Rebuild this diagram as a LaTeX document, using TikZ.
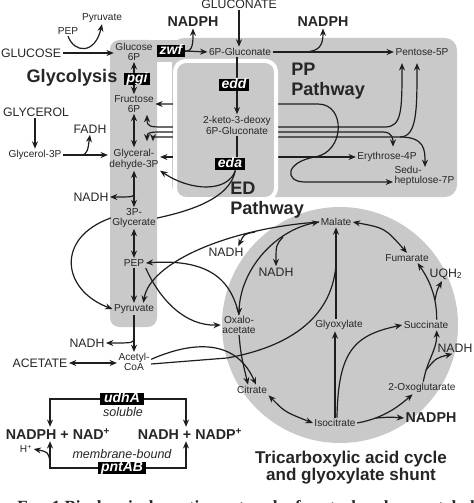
\documentclass[tikz,border=0pt]{standalone}
\usepackage{fontspec}
\setmainfont{Liberation Sans}
\newfontfamily\capserif{Liberation Serif}
\usetikzlibrary{arrows.meta,calc}
\definecolor{rg}{RGB}{201,201,201}
\definecolor{txt}{RGB}{38,38,38}
\definecolor{lc}{RGB}{30,30,30}
\pgfdeclarelayer{bg}
\pgfdeclarelayer{pp}
\pgfdeclarelayer{ed}
\pgfdeclarelayer{edges}
\pgfsetlayers{bg,pp,ed,edges,main}
\tikzset{
 lab/.style={font=\fontsize{9.2}{10}\selectfont, text=txt, inner sep=1pt},
 sm/.style={font=\fontsize{7.6}{7}\selectfont, text=txt, inner sep=1pt, align=center},
 bnad/.style={font=\bfseries\fontsize{10.7}{12}\selectfont, text=txt, inner sep=1pt},
 ttl/.style={font=\bfseries\fontsize{13.6}{14.5}\selectfont, text=txt, inner sep=0pt, align=left},
 enz/.style={fill=black, text=white, font=\bfseries\itshape\fontsize{10.5}{11}\selectfont, inner xsep=2pt, inner ysep=0.4pt, text height=6.9pt, text depth=1.7pt},
 ital/.style={font=\itshape\fontsize{9.4}{10}\selectfont, text=txt, inner sep=1pt},
 conn/.style={line width=0.9pt, draw=lc},
 arr/.style={conn, -{Stealth[length=5.5pt,width=4.5pt]}},
 darr/.style={conn, {Stealth[length=5.5pt,width=4.5pt]}-{Stealth[length=5.5pt,width=4.5pt]}},
}
\begin{document}
\begin{tikzpicture}[x=0.75pt,y=-0.75pt]
\useasboundingbox (0,0) rectangle (474,503);
% ---------- regions ----------
\begin{pgfonlayer}{bg}
\fill[white] (0,0) rectangle (474,503);
\fill[rg, rounded corners=7pt] (110,40) rectangle (157,327);
\fill[rg] (150,40) rectangle (185,62);
\fill[rg, rounded corners=9pt] (172,38) rectangle (457,197);
\fill[rg] (340,325) circle[radius=88.5pt];
\end{pgfonlayer}
\begin{pgfonlayer}{ed}
\draw[fill=rg, draw=white, line width=3pt, rounded corners=8pt] (175,61) rectangle (276,199);
\end{pgfonlayer}
% ---------- nodes ----------
\node[lab] (gluconate) at (239,4) {GLUCONATE};
\node[bnad] (nadphA) at (193,22) {NADPH};
\node[bnad] (nadphB) at (323,22) {NADPH};
\node[sm] (pepA) at (68,31) {PEP};
\node[sm] (pyrA) at (102,18) {Pyruvate};
\node[lab] (glucose) at (31,53) {GLUCOSE};
\node[sm] (g6p) at (134,52) {Glucose\\6P};
\node[enz] (zwf) at (171,51) {zwf};
\node[sm] (gnt) at (240,52) {6P-Gluconate};
\node[sm] (p5p) at (422,52) {Pentose-5P};
\node[ttl] (glyco) at (72,78) {Glycolysis};
\node[enz] (pgi) at (137,79) {pgi};
\node[sm] (f6p) at (134,104) {Fructose\\6P};
\node[lab] (glycerol) at (36,112) {GLYCEROL};
\node[lab] (fadh) at (90,129) {FADH};
\node[sm] (gol3p) at (35,155) {Glycerol-3P};
\node[sm] (g3p) at (134,159) {Glyceral-\\dehyde-3P};
\node[enz] (edd) at (234,85) {edd};
\node[sm] (kdpg) at (237,125) {2-keto-3-deoxy\\6P-Gluconate};
\node[enz] (eda) at (230,164) {eda};
\node[ttl, anchor=north west] (pptitle) at (291,63) {PP\\Pathway};
\node[sm] (e4p) at (387,157) {Erythrose-4P};
\node[sm, align=left, anchor=west] (s7p) at (393,176) {Sedu-\\heptulose-7P};
\node[ttl, anchor=north west] (edtitle) at (230,182) {ED\\Pathway};
\node[lab] (nadhA) at (91,197) {NADH};
\node[sm, fill=rg] (g3pg) at (134,218) {3P-\\Glycerate};
\node[sm] (pep) at (134,263) {PEP};
\node[sm] (pyr) at (134,309) {Pyruvate};
\node[lab] (nadhB) at (226,252) {NADH};
\node[lab] (nadhC) at (276,272) {NADH};
\node[sm] (mal) at (336,222) {Malate};
\node[sm] (fum) at (407,258) {Fumarate};
\node[lab] (uqh) at (446,274) {UQH\textsubscript{2}};
\node[sm] (glx) at (339,325) {Glyoxylate};
\node[sm] (suc) at (426,325) {Succinate};
\node[sm] (oaa) at (239,325) {Oxalo-\\acetate};
\node[sm] (accoa) at (134,362) {Acetyl-\\CoA};
\node[lab] (nadhD) at (87,343) {NADH};
\node[lab] (acetate) at (40,363) {ACETATE};
\node[sm] (cit) at (252,390) {Citrate};
\node[lab] (nadhE) at (455,348) {NADH};
\node[sm] (akg) at (422,388) {2-Oxoglutarate};
\node[sm] (icit) at (335,423) {Isocitrate};
\node[bnad] (nadphC) at (431,418) {NADPH};
\node[font=\bfseries\fontsize{12.8}{12.8}\selectfont, align=center, text=txt, inner sep=0pt] (tca) at (351,468) {Tricarboxylic acid cycle\\and glyoxylate shunt};
\node[enz, minimum width=33pt] (udha) at (122,399) {udhA};
\node[ital] (sol) at (123,412) {soluble};
\node[bnad] (lhs) at (58,434) {NADPH + NAD\textsuperscript{+}};
\node[bnad] (rhs) at (190,434) {NADH + NADP\textsuperscript{+}};
\node[sm] (hp) at (26,449) {H\textsuperscript{+}};
\node[ital] (mb) at (122,454) {membrane-bound};
\node[enz, minimum width=33pt] (pnt) at (122,468) {pntAB};
\coordinate (lx) at (50,0);
\coordinate (rx) at (186,0);
\begin{scope}
\clip (0,0) rectangle (474,503);
\node[anchor=base west, inner sep=0pt, font=\capserif\bfseries\fontsize{12.8}{14}\selectfont, text=black!85] (cap) at (17,512) {F{\fontsize{10}{12}\selectfont IG}. 1 Biochemical reaction network of central carbon metabolism};
\end{scope}
% ---------- PP pathway lines (behind ED region) ----------
\begin{pgfonlayer}{pp}
\draw[darr] (f6p.east) -- (318,104) .. controls (346,104) and (345,152) .. (315,157) .. controls (285,162) and (284,182) .. (305,182) -- ([yshift=-4.5pt]s7p.west);
\draw[darr] (e4p.west -| g3p.east) -- (e4p.west);
\draw[darr] ($(f6p.south)+(13,1)$) .. controls (147,127) and (150,127) .. (165,127) -- (385,127) .. controls (402,127) and (402,110) .. ($(p5p.south)+(-20,6)$);
\draw[darr] ($(g3p.north)+(13,-6)$) .. controls (147,132) and (150,132) .. (165,132) -- (383,132) .. controls (393,132) and (393,140) .. ($(e4p.north)+(6,-4)$);
\coordinate (bS) at (400,137);
\draw[darr] ($(g3p.north)+(19,-6)$) .. controls (153,137) and (156,137) .. (168,137) -- (bS) .. controls (417,137) and (417,110) .. ($(p5p.south)+(-5,6)$);
\draw[arr] (bS) .. controls (425,137) and (425,150) .. ($(s7p.north west)+(32,2)$);
\end{pgfonlayer}
% ---------- other connectors ----------
\begin{pgfonlayer}{edges}
\draw[arr] (glucose.east) -- (glucose.east -| g6p.west);
\draw[arr] (pepA.south) .. controls (74,53) and (95,55) .. (pyrA.south);
\draw[arr] (zwf.east) -- (gnt.west);
\draw[arr] (zwf.east) .. controls (193,52) and (193,42) .. (nadphA.south);
\draw[arr] (gluconate.south) -- (gluconate.south |- gnt.north);
\draw[arr] (gnt.east) -- (p5p.west);
\coordinate (bB) at ($(gnt.east)!0.25!(p5p.west)$);
\draw[arr] (bB) .. controls (320,52) and (323,45) .. (nadphB.south);
\draw[darr] (g6p.south) -- (f6p.north);
\draw[arr] (gol3p.north |- glycerol.south) -- (gol3p.north);
\draw[arr] (gol3p.east) -- (gol3p.east -| g3p.west);
\coordinate (bF) at ($(gol3p.east)!0.4!(gol3p.east -| g3p.west)$);
\draw[arr] (bF) .. controls (88,155) and (88,148) .. (fadh.south);
\draw[darr] (f6p.south) -- (f6p.south |- g3p.north);
\draw[arr] (gnt.south -| kdpg.north) -- (kdpg.north);
\draw[conn] (kdpg.south) -- (kdpg.south |- eda.north);
\draw[arr] ([xshift=4pt]eda.south) .. controls (228,192) and (192,192) .. (g3p.south east);
\draw[arr] ([xshift=4pt]eda.south) .. controls (230,200) and (185,212) .. (g3pg.east) -- (g3pg.west) .. controls (55,238) and (62,290) .. (pyr.west);
\draw[darr] (g3p.south) -- (g3pg.north);
\coordinate (bN1) at ($(g3p.south)!0.6!(g3pg.north)$);
\draw[arr] (bN1) .. controls (134,197) .. (nadhA.east);
\draw[darr] (g3pg.south) -- (pep.north);
\draw[arr] (pep.south) -- (pyr.north);
\draw[arr] (mal.west) .. controls (230,228) and (150,262) .. ([xshift=7pt]pyr.north);
\coordinate (bN2) at (255,232);
\draw[arr] (bN2) .. controls (244,234) .. ([xshift=-5pt]nadhB.north east);
\draw[arr] (oaa.north) .. controls (232,285) and (215,258) .. (pep.east);
\draw[arr] (pep.south east) .. controls (160,300) and (185,326) .. (oaa.west);
\draw[darr] (mal.west) .. controls (275,230) and (240,270) .. (oaa.north);
\coordinate (bN3) at (283,237);
\draw[arr] (bN3) .. controls (276,245) .. (nadhC.north);
\draw[arr] (pyr.south) -- (accoa.north);
\coordinate (bN4) at ($(pyr.south)!0.6!(accoa.north)$);
\draw[arr] (bN4) .. controls (134,343) .. (nadhD.east);
\draw[darr] (acetate.east) -- (acetate.east -| accoa.west);
\draw[arr] ([yshift=2pt]accoa.east) .. controls (200,338) and (238,343) .. ([xshift=3pt]cit.north);
\coordinate (jn) at ($(glx.north -| mal.south)!0.6!(mal.south)$);
\draw[conn] ([yshift=-1.5pt]accoa.east) -- (227,358) .. controls (300,345) and (333,310) .. (jn);
\draw[arr] (oaa.south) .. controls (241,355) .. ([xshift=-3pt]cit.north);
\draw[arr] (glx.north -| mal.south) -- (mal.south);
\draw[arr] (icit.north) -- (icit.north |- glx.south);
\draw[arr] ([xshift=1.5pt]icit.north) .. controls (338,350) and (355,335) .. (suc.west);
\draw[darr] (cit.south east) .. controls (285,412) .. (icit.west);
\draw[arr] (icit.east) .. controls (385,418) and (400,405) .. ([xshift=-7pt]akg.south);
\coordinate (bP) at (376,418);
\draw[arr] (bP) .. controls (390,417) .. (nadphC.west);
\draw[arr] ([xshift=1pt]akg.north) .. controls (427,360) and (437,350) .. ([xshift=8pt]suc.south);
\coordinate (bE) at (426,370);
\draw[arr] (bE) .. controls (436,358) .. ([xshift=-2pt]nadhE.south);
\draw[arr] ([xshift=8pt]suc.north) .. controls (437,295) and (428,278) .. ([xshift=8pt]fum.south);
\coordinate (bU) at (435,300);
\draw[arr] (bU) .. controls (437,290) .. ([xshift=-3pt]uqh.south);
\draw[darr] (mal.east) .. controls (385,228) .. (fum.north);
\draw[arr] (udha.west) -| (lx |- lhs.north);
\draw[arr] (udha.east) -| (rx |- rhs.north);
\draw[arr] (pnt.west) -| (lx |- lhs.south);
\draw[arr] (pnt.east) -| (rx |- rhs.south);
\coordinate (bH) at (50,461);
\draw[arr] (bH) .. controls (48,452) .. (hp.east);
\end{pgfonlayer}
\end{tikzpicture}
\end{document}
